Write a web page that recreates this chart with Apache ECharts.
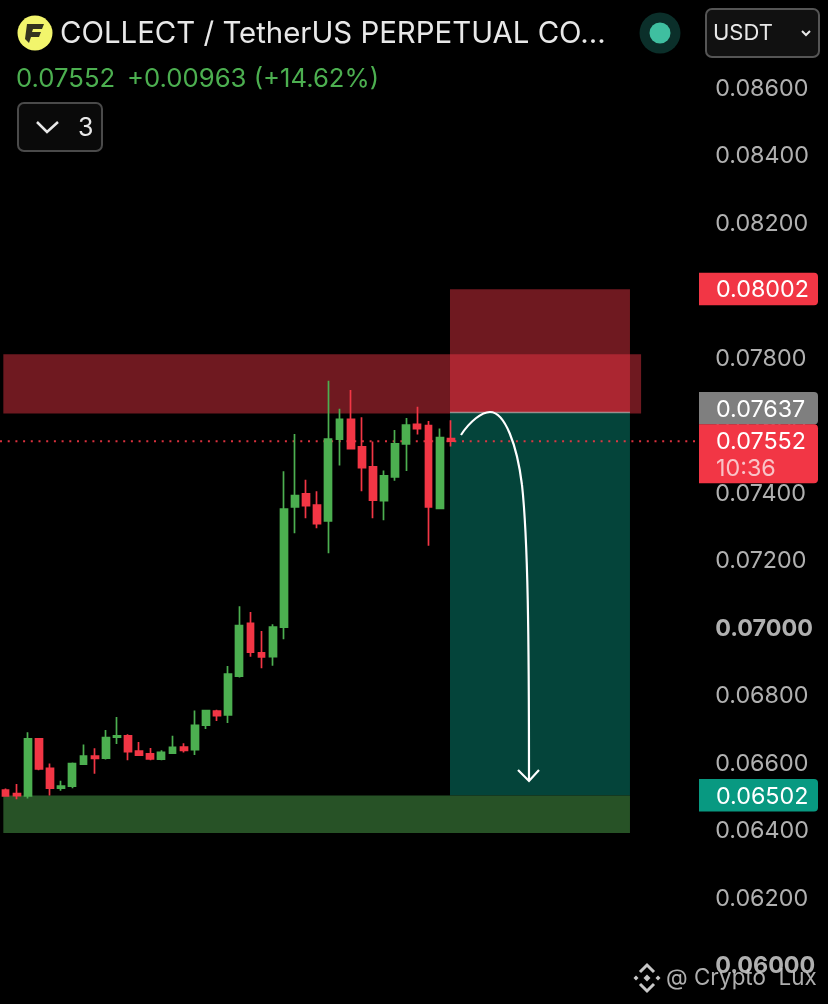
<!DOCTYPE html>
<html><head><meta charset="utf-8">
<style>html,body{margin:0;padding:0;background:#000}#c{width:828px;height:1004px}</style>
<script src="https://cdn.jsdelivr.net/npm/echarts@6/dist/echarts.min.js"></script>
</head><body><div id="c"></div>
<script>
// candle values: open, close, low, high
const opens  = [.06518,.06508,.06501,.06670,.06583,.06524,.06530,.06595,.06619,.06613,.06675,.06679,.06634,.06626,.06610,.06628,.06646,.06638,.06711,.06752,.06741,.06856,.07012,.06925,.06914,.07001,.07357,.07396,.07363,.07316,.07558,.07617,.07535,.07476,.07376,.07446,.07544,.07602,.07598,.07353,.07560];
const closes = [.06501,.06502,.06670,.06581,.06524,.06530,.06597,.06619,.06612,.06674,.06679,.06632,.06622,.06611,.06630,.06645,.06636,.06710,.06754,.06739,.06862,.07006,.06927,.06913,.07001,.07351,.07391,.07361,.07308,.07558,.07617,.07530,.07474,.07377,.07449,.07544,.07600,.07589,.07357,.07563,.07552];
const lows   = [.06499,.06491,.06493,.06577,.06502,.06516,.06524,.06593,.06567,.06609,.06655,.06607,.06620,.06607,.06607,.06626,.06630,.06622,.06699,.06723,.06717,.06852,.06913,.06879,.06887,.06965,.07279,.07324,.07294,.07220,.07480,.07530,.07404,.07324,.07318,.07435,.07464,.07572,.07242,.07353,.07536];
const highs  = [.06523,.06536,.06690,.06670,.06597,.06546,.06600,.06653,.06642,.06696,.06735,.06684,.06661,.06643,.06636,.06679,.06657,.06754,.06754,.06756,.06886,.07063,.07046,.06990,.07010,.07463,.07573,.07438,.07404,.07731,.07648,.07704,.07623,.07551,.07465,.07585,.07621,.07654,.07612,.07590,.07614];
const slotCount = 63;
const boldTicks = ['0.06000','0.07000'];
const lastPrice = 0.07552;
const entryPrice = 0.07637;
// zones: from bar slot, to bar slot, top price, bottom price
const zoneFrom   = [-0.2, 39.93, 39.93, -0.2];
const zoneTo     = [57.1, 56.1, 56.1, 56.1];
const zoneTop    = [0.07810, 0.08002, 0.07637, 0.06502];
const zoneBottom = [0.07634, 0.07637, 0.06502, 0.06391];
const zoneColors = ['rgba(242,54,69,0.46)','rgba(242,54,69,0.46)','#04443a','#275226'];
// price tags
const tagValues = [0.08002, 0.07637, 0.07552, 0.06502];
const tagTexts  = ['0.08002','0.07637','0.07552','0.06502'];
const tagColors = ['#f23645','#7f7f7f','#f23645','#089981'];
const tagShift  = [-16.5,-20.5,-17,-16.5];
const tagHeight = [32.5,32.5,59,32.5];
const countdown = '10:36';
const FONT = 'Inter';
const GREEN = '#4caf50', RED = '#f23645';

const chart = echarts.init(document.getElementById('c'), null, {renderer:'canvas'});
const candleData = opens.map((o,i)=>[o,closes[i],lows[i],highs[i]]);
const categories = Array.from({length:slotCount},(_,i)=>String(i));

const hdr = [];
hdr.push({type:'circle',shape:{cx:35,cy:33,r:17.5},style:{fill:'#f2f56c'}});
hdr.push({type:'polygon',shape:{points:[[27,24],[44,24],[42,29],[33,29],[32,32],[41,32],[39,37],[31,37],[29,43],[25,39]]},style:{fill:'#33331f'}});
hdr.push({type:'text',style:{x:60,y:34,text:'COLLECT / TetherUS PERPETUAL CO...',fill:'#e8e8e8',font:'400 29.4px '+FONT,textVerticalAlign:'middle'}});
hdr.push({type:'text',style:{x:16,y:79,text:'0.07552',fill:GREEN,font:'400 25.7px '+FONT,textVerticalAlign:'middle'}});
hdr.push({type:'text',style:{x:127,y:79,text:'+0.00963 (+14.62%)',fill:GREEN,font:'400 25.7px '+FONT,textVerticalAlign:'middle'}});
hdr.push({type:'rect',shape:{x:18,y:103,width:84,height:48,r:6},style:{fill:'#0a0a0a',stroke:'#4a4a4a',lineWidth:2}});
hdr.push({type:'polyline',shape:{points:[[37,122],[47,132],[58,122]]},style:{fill:'none',stroke:'#e8e8e8',lineWidth:2.5}});
hdr.push({type:'text',style:{x:78,y:128,text:'3',fill:'#e8e8e8',font:'400 25px '+FONT,textVerticalAlign:'middle'}});
hdr.push({type:'circle',shape:{cx:660,cy:33,r:20.5},style:{fill:'#0b2f2a'}});
hdr.push({type:'circle',shape:{cx:660,cy:33,r:10.5},style:{fill:'#3fbfa0'}});
hdr.push({type:'rect',shape:{x:706,y:9,width:113,height:48,r:6},style:{fill:'#111111',stroke:'#555555',lineWidth:2}});
hdr.push({type:'text',style:{x:713,y:33,text:'USDT',fill:'#e8e8e8',font:'400 22px '+FONT,textVerticalAlign:'middle'}});
hdr.push({type:'polyline',shape:{points:[[802,31],[806,35],[810,31]]},style:{fill:'none',stroke:'#e8e8e8',lineWidth:2}});
// hand drawn arrow
const curve=(x1,y1,cpx1,cpy1,cpx2,cpy2,x2,y2)=>({type:'bezierCurve',shape:{x1,y1,cpx1,cpy1,cpx2,cpy2,x2,y2},style:{fill:'none',stroke:'#ffffff',lineWidth:2.2}});
hdr.push(curve(461,435,470,421,482,412,490,412));
hdr.push(curve(490,412,505,412,517,445,522,485));
hdr.push(curve(522,485,528,540,529,640,529,780));
hdr.push({type:'polyline',shape:{points:[[518,770],[529,781],[539,770]]},style:{fill:'none',stroke:'#ffffff',lineWidth:2.2}});
// watermark
const dia=(cx,cy,r)=>({type:'polygon',shape:{points:[[cx,cy-r],[cx+r,cy],[cx,cy+r],[cx-r,cy]]},style:{fill:'#c8c8c8'}});
hdr.push(dia(647,978,3.5),dia(636,978,2.5),dia(658,978,2.5));
hdr.push({type:'polyline',shape:{points:[[640,972],[647,965],[654,972]]},style:{fill:'none',stroke:'#c8c8c8',lineWidth:3}});
hdr.push({type:'polyline',shape:{points:[[640,984],[647,991],[654,984]]},style:{fill:'none',stroke:'#c8c8c8',lineWidth:3}});
hdr.push({type:'text',style:{x:666,y:978,text:'@ Crypto  Lux',fill:'rgba(205,205,205,0.85)',font:'400 22.4px '+FONT,textVerticalAlign:'middle'}});

chart.setOption({
  animation:false,
  backgroundColor:'#000',
  grid:{left:-0.3,width:701.5,top:87.5,height:877.5,containLabel:false},
  xAxis:[
    {type:'category',data:categories,show:false,boundaryGap:true},
    {type:'value',min:-0.5,max:slotCount-0.5,show:false,splitLine:{show:false}}
  ],
  yAxis:{type:'value',position:'right',min:0.060,max:0.086,interval:0.002,scale:true,
    axisLine:{show:false},axisTick:{show:false},splitLine:{show:false},
    axisLabel:{show:true,margin:14,showMinLabel:true,showMaxLabel:true,
      formatter:v=>{const s=v.toFixed(5);return boldTicks.includes(s)?'{b|'+s+'}':'{n|'+s+'}';},
      rich:{n:{color:'#b0b0b0',fontFamily:FONT,fontSize:23.3,fontWeight:400,padding:[2,0,0,0]},
            b:{color:'#b0b0b0',fontFamily:FONT,fontSize:23.3,fontWeight:700,padding:[2,0,0,0]}}}
  },
  graphic:{elements:hdr.map(e=>Object.assign({z:100,silent:true},e))},
  series:[
    {type:'custom',xAxisIndex:1,yAxisIndex:0,z:1,clip:false,silent:true,
     data:zoneFrom.map((_,i)=>[i]),
     renderItem:(p,api)=>{
       const i=api.value(0);
       const a=api.coord([zoneFrom[i],zoneTop[i]]), b=api.coord([zoneTo[i],zoneBottom[i]]);
       return {type:'rect',shape:{x:a[0],y:a[1],width:b[0]-a[0],height:b[1]-a[1]},style:{fill:zoneColors[i]}};
     }},
    {type:'custom',xAxisIndex:1,yAxisIndex:0,z:2,clip:false,silent:true,
     data:[[lastPrice,entryPrice]],
     renderItem:(p,api)=>{
       const y=api.coord([0,api.value(0)])[1];
       const e=api.coord([39.93,api.value(1)]), e2=api.coord([56.1,api.value(1)]);
       return {type:'group',children:[
         {type:'line',shape:{x1:0,y1:y,x2:699,y2:y},style:{stroke:RED,lineWidth:2,lineDash:[2,5.7],opacity:0.9}},
         {type:'line',shape:{x1:e[0],y1:e[1],x2:e2[0],y2:e2[1]},style:{stroke:'rgba(255,255,255,0.45)',lineWidth:1.5}}
       ]};
     }},
    {type:'candlestick',xAxisIndex:0,yAxisIndex:0,z:3,data:candleData,barWidth:7.3,clip:false,
     itemStyle:{color:GREEN,color0:RED,borderColor:GREEN,borderColor0:RED,borderWidth:1.7}},
    {type:'custom',xAxisIndex:1,yAxisIndex:0,z:50,clip:false,silent:true,
     data:tagValues.map((_,i)=>[i]),
     renderItem:(p,api)=>{
       const i=api.value(0);
       const y=api.coord([0,tagValues[i]])[1]+tagShift[i];
       const kids=[
        {type:'rect',shape:{x:699,y:y,width:119,height:tagHeight[i],r:[0,4,4,0]},style:{fill:tagColors[i]}},
        {type:'text',style:{x:716,y:y+17.5,text:tagTexts[i],fill:'#ffffff',font:'400 23.3px '+FONT,textVerticalAlign:'middle'}}
       ];
       if(tagHeight[i]>40) kids.push({type:'text',style:{x:716,y:y+45,text:countdown,fill:'#f9c3c7',font:'400 23.3px '+FONT,textVerticalAlign:'middle'}});
       return {type:'group',children:kids};
     }}
  ]
});
</script></body></html>
